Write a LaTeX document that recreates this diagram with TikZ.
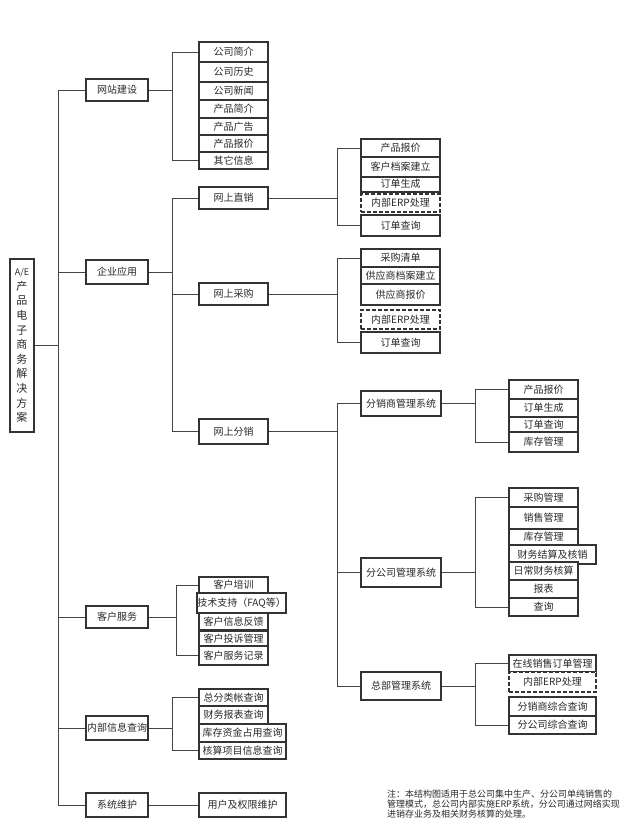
\documentclass[tikz,border=0pt]{standalone}
\usepackage{fontspec}
\setmainfont{Noto Sans CJK SC}
\XeTeXlinebreaklocale "zh"
\XeTeXlinebreakskip=0pt plus 1fil
\definecolor{boxc}{HTML}{333333}
\definecolor{txtc}{HTML}{2A2A2A}
\definecolor{linec}{HTML}{444444}
\newcommand\bx[6][]{\node[box,#1,minimum width={(#4)-(#2)},minimum height={(#5)-(#3)}] (#6) at ({((#2)+(#4))/2},{((#3)+(#5))/2})}
\begin{document}
\begin{tikzpicture}[x=1pt,y=-1pt,
  box/.style={draw=boxc,line width=1.1pt,fill=white,inner sep=0pt,text=txtc,font=\fontsize{10}{12}\selectfont},
  dbox/.style={box,dash pattern=on 4pt off 2pt,line width=1.3pt},
  conn/.style={draw=linec,line width=0.9pt}]
\useasboundingbox (0,0) rectangle (640,838);
\fill[white] (0,0) rectangle (640,838);
% bus coordinates
\coordinate (t0) at (58,0);
\coordinate (b1) at (172,0);
\coordinate (b2) at (176,0);
\coordinate (b3) at (337,0);
\coordinate (b4) at (475,0);
% root
\node[box,minimum width=24,minimum height=173,align=center,font=\fontsize{11}{14.6}\selectfont] (r) at (22,345.5)
  {{\fontsize{9}{14.6}\selectfont A/E}\\产\\品\\电\\子\\商\\务\\解\\决\\方\\案};
% level 1
\bx{86}{79}{148}{101}{l1}{网站建设};
\bx{86}{260}{148}{284}{l2}{企业应用};
\bx{86}{606}{148}{628}{l3}{客户服务};
\bx{86}{716}{148}{740}{l4}{内部信息查询};
\bx{86}{793}{148}{817}{l5}{系统维护};
% website
\bx{199}{42}{268}{62}{a1}{公司简介};
\bx{199}{62}{268}{82}{a2}{公司历史};
\bx{199}{82}{268}{100}{a3}{公司新闻};
\bx{199}{100}{268}{118}{a4}{产品简介};
\bx{199}{118}{268}{135}{a5}{产品广告};
\bx{199}{135}{268}{152}{a6}{产品报价};
\bx{199}{152}{268}{169}{a7}{其它信息};
% enterprise
\bx{199}{187}{268}{209}{m1}{网上直销};
\bx{199}{283}{268}{305}{m2}{网上采购};
\bx{199}{419}{268}{444}{m3}{网上分销};
% direct sales
\bx{361}{139}{440}{157}{d1}{产品报价};
\bx{361}{176}{440}{192}{d3}{订单生成};
\bx{361}{157}{440}{177}{d2}{客户档案建立};
\bx[dbox]{361}{194}{440}{212}{d4}{内部ERP处理};
\bx{361}{215}{440}{236}{d5}{订单查询};
% purchase
\bx{361}{249}{440}{267}{p1}{采购清单};
\bx{361}{267}{440}{284}{p2}{供应商档案建立};
\bx{361}{284}{440}{305}{p3}{供应商报价};
\bx[dbox]{361}{310}{440}{329}{p4}{内部ERP处理};
\bx{361}{332}{440}{353}{p5}{订单查询};
% distribution
\bx{361}{391}{441}{416}{s1}{分销商管理系统};
\bx{361}{558}{441}{587}{s2}{分公司管理系统};
\bx{361}{672}{441}{700}{s3}{总部管理系统};
\bx{509}{380}{578}{399}{e1}{产品报价};
\bx{509}{399}{578}{417}{e2}{订单生成};
\bx{509}{417}{578}{432}{e3}{订单查询};
\bx{509}{432}{578}{452}{e4}{库存管理};
\bx{509}{488}{578}{507}{f1}{采购管理};
\bx{509}{507}{578}{529}{f2}{销售管理};
\bx{509}{529}{578}{545}{f3}{库存管理};
\bx{509}{545}{596}{564}{f4}{财务结算及核销};
\bx{509}{562}{578}{580}{f5}{日常财务核算};
\bx{509}{580}{578}{598}{f6}{报表};
\bx{509}{598}{578}{616}{f7}{查询};
\bx{509}{655}{596}{672}{g1}{在线销售订单管理};
\bx[dbox]{509}{672}{596}{692}{g2}{内部ERP处理};
\bx{509}{697}{596}{716}{g3}{分销商综合查询};
\bx{509}{716}{596}{734}{g4}{分公司综合查询};
% customer service
\bx{199}{577}{268}{593}{h1}{客户培训};
\bx{197}{593}{286}{613}{h2}{技术支持（FAQ等）};
\bx{199}{613}{268}{630}{h3}{客户信息反馈};
\bx{199}{631}{268}{646}{h4}{客户投诉管理};
\bx{199}{646}{268}{665}{h5}{客户服务记录};
% internal query
\bx{199}{689}{268}{706}{i1}{总分类帐查询};
\bx{199}{706}{268}{724}{i2}{财务报表查询};
\bx{199}{724}{286}{742}{i3}{库存资金占用查询};
\bx{199}{742}{286}{759}{i4}{核算项目信息查询};
% maintenance
\bx{199}{793}{286}{817}{j1}{用户及权限维护};
% connectors
\draw[conn] (r.east) -- (r.east -| t0);
\draw[conn] (l1.west) -- (l1.west -| t0) -- (l5.west -| t0) -- (l5.west);
\draw[conn] (l2.west) -- (l2.west -| t0);
\draw[conn] (l3.west) -- (l3.west -| t0);
\draw[conn] (l4.west) -- (l4.west -| t0);
\draw[conn] (l1.east) -- (l1.east -| b1);
\draw[conn] (a1.west) -- (a1.west -| b1) -- (a7.west -| b1) -- (a7.west);
\draw[conn] (l2.east) -- (l2.east -| b1);
\draw[conn] (m1.west) -- (m1.west -| b1) -- (m3.west -| b1) -- (m3.west);
\draw[conn] (m2.west) -- (m2.west -| b1);
\draw[conn] (m1.east) -- (m1.east -| b3);
\draw[conn] (d1.west) -- (d1.west -| b3) -- (d5.west -| b3) -- (d5.west);
\draw[conn] (m2.east) -- (m2.east -| b3);
\draw[conn] (p1.west) -- (p1.west -| b3) -- (p5.west -| b3) -- (p5.west);
\draw[conn] (m3.east) -- (m3.east -| b3);
\draw[conn] (s1.west) -- (s1.west -| b3) -- (s3.west -| b3) -- (s3.west);
\draw[conn] (s2.west) -- (s2.west -| b3);
\draw[conn] (s1.east) -- (s1.east -| b4);
\draw[conn] (e1.west) -- (e1.west -| b4) -- (e4.west -| b4) -- (e4.west);
\draw[conn] (s2.east) -- (s2.east -| b4);
\draw[conn] (f1.west) -- (f1.west -| b4) -- (f7.west -| b4) -- (f7.west);
\draw[conn] (s3.east) -- (s3.east -| b4);
\draw[conn] (g1.west) -- (g1.west -| b4) -- (g4.west -| b4) -- (g4.west);
\draw[conn] (l3.east) -- (l3.east -| b2);
\draw[conn] (h1.west) -- (h1.west -| b2) -- (h5.west -| b2) -- (h5.west);
\draw[conn] (l4.east) -- (l4.east -| b1);
\draw[conn] (i1.west) -- (i1.west -| b1) -- (i4.west -| b1) -- (i4.west);
\draw[conn] (l5.east) -- (j1.west);
% note
\node[anchor=north west,inner sep=0pt,align=left,text=txtc,font=\fontsize{9}{10}\selectfont] (note) at (387,790)
  {\hbox to 249pt{注：本结构图适用于总公司集中生产、分公司单纯销售的}\\\hbox to 249pt{管理模式，总公司内部实施ERP系统，分公司通过网络实现}\\进销存业务及相关财务核算的处理。};
\end{tikzpicture}
\end{document}
